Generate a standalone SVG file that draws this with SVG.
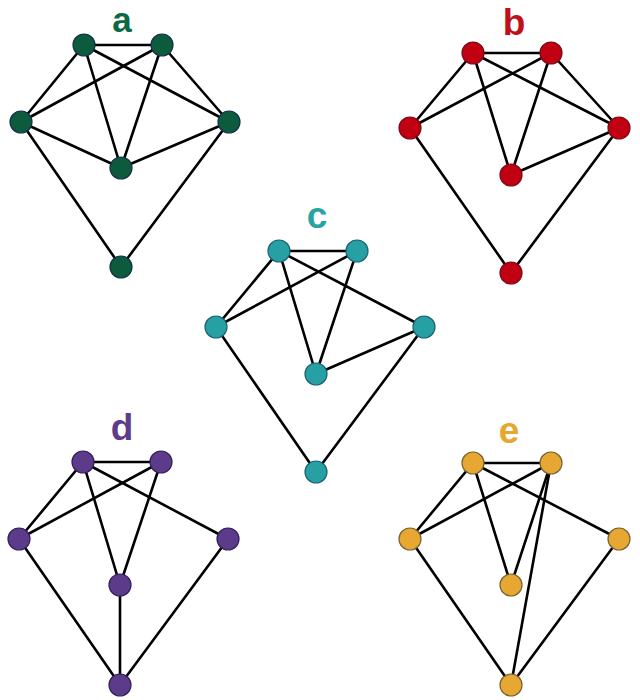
<svg xmlns="http://www.w3.org/2000/svg" width="640" height="700" viewBox="0 0 640 700">
<style>
.bg{fill:#ffffff}
.e line{stroke:#000;stroke-width:2.6;stroke-linecap:round}
.lbl{font-family:"Liberation Sans",Arial,sans-serif;font-weight:bold;font-size:37px;text-anchor:middle}
.na{fill:#0c5b3d;stroke:#16304a;stroke-width:1.2}
.nb{fill:#c10012;stroke:#7a0a18;stroke-width:1.2}
.nc{fill:#26a0a2;stroke:#1b6275;stroke-width:1.2}
.nd{fill:#5c3b8b;stroke:#33205a;stroke-width:1.2}
.ne{fill:#e6a833;stroke:#7a6032;stroke-width:1.2}
</style>
<rect class="bg" x="0" y="0" width="640" height="700"/>

<g id="connectors" class="e">
  <!-- graph a -->
  <line x1="84" y1="45" x2="162" y2="45"/>
  <line x1="84" y1="45" x2="21" y2="122"/>
  <line x1="84" y1="45" x2="121" y2="168"/>
  <line x1="84" y1="45" x2="229" y2="122"/>
  <line x1="162" y1="45" x2="21" y2="122"/>
  <line x1="162" y1="45" x2="121" y2="168"/>
  <line x1="162" y1="45" x2="229" y2="122"/>
  <line x1="21" y1="122" x2="121" y2="168"/>
  <line x1="21" y1="122" x2="121" y2="267"/>
  <line x1="121" y1="168" x2="229" y2="122"/>
  <line x1="229" y1="122" x2="121" y2="267"/>
  <!-- graph b -->
  <line x1="473" y1="53" x2="551" y2="53"/>
  <line x1="473" y1="53" x2="410" y2="128"/>
  <line x1="473" y1="53" x2="511" y2="175"/>
  <line x1="473" y1="53" x2="619" y2="128"/>
  <line x1="551" y1="53" x2="410" y2="128"/>
  <line x1="551" y1="53" x2="511" y2="175"/>
  <line x1="551" y1="53" x2="619" y2="128"/>
  <line x1="511" y1="175" x2="619" y2="128"/>
  <line x1="410" y1="128" x2="511" y2="273"/>
  <line x1="619" y1="128" x2="511" y2="273"/>
  <!-- graph c -->
  <line x1="279" y1="251" x2="357" y2="251"/>
  <line x1="279" y1="251" x2="216" y2="327"/>
  <line x1="279" y1="251" x2="316" y2="374"/>
  <line x1="279" y1="251" x2="424" y2="327"/>
  <line x1="357" y1="251" x2="216" y2="327"/>
  <line x1="357" y1="251" x2="316" y2="374"/>
  <line x1="316" y1="374" x2="424" y2="327"/>
  <line x1="216" y1="327" x2="316" y2="472"/>
  <line x1="424" y1="327" x2="316" y2="472"/>
  <!-- graph d -->
  <line x1="83" y1="462" x2="161" y2="462"/>
  <line x1="83" y1="462" x2="19" y2="539"/>
  <line x1="83" y1="462" x2="120" y2="585"/>
  <line x1="83" y1="462" x2="228" y2="539"/>
  <line x1="161" y1="462" x2="19" y2="539"/>
  <line x1="161" y1="462" x2="120" y2="585"/>
  <line x1="120" y1="585" x2="120" y2="685"/>
  <line x1="19" y1="539" x2="120" y2="685"/>
  <line x1="228" y1="539" x2="120" y2="685"/>
  <!-- graph e -->
  <line x1="473" y1="463" x2="551" y2="463"/>
  <line x1="473" y1="463" x2="410" y2="539"/>
  <line x1="473" y1="463" x2="511" y2="585"/>
  <line x1="473" y1="463" x2="619" y2="539"/>
  <line x1="551" y1="463" x2="410" y2="539"/>
  <line x1="551" y1="463" x2="511" y2="585"/>
  <line x1="551" y1="463" x2="511" y2="685"/>
  <line x1="410" y1="539" x2="511" y2="685"/>
  <line x1="619" y1="539" x2="511" y2="685"/>
</g>

<g id="graph-a">
  <text class="lbl" x="122" y="32" fill="#0b6a44" style="font-size:35px">a</text>
  <g id="a-tl"><circle class="na" cx="84" cy="45" r="11"/></g>
  <g id="a-tr"><circle class="na" cx="162" cy="45" r="11"/></g>
  <g id="a-l"><circle class="na" cx="21" cy="122" r="11"/></g>
  <g id="a-r"><circle class="na" cx="229" cy="122" r="11"/></g>
  <g id="a-m"><circle class="na" cx="121" cy="168" r="11"/></g>
  <g id="a-b"><circle class="na" cx="121" cy="267" r="11"/></g>
</g>

<g id="graph-b">
  <text class="lbl" x="514" y="35" fill="#c0101a">b</text>
  <g id="b-tl"><circle class="nb" cx="473" cy="53" r="11"/></g>
  <g id="b-tr"><circle class="nb" cx="551" cy="53" r="11"/></g>
  <g id="b-l"><circle class="nb" cx="410" cy="128" r="11"/></g>
  <g id="b-r"><circle class="nb" cx="619" cy="128" r="11"/></g>
  <g id="b-m"><circle class="nb" cx="511" cy="175" r="11"/></g>
  <g id="b-b"><circle class="nb" cx="511" cy="273" r="11"/></g>
</g>

<g id="graph-c">
  <text class="lbl" x="317" y="228" fill="#27a3a3">c</text>
  <g id="c-tl"><circle class="nc" cx="279" cy="251" r="11"/></g>
  <g id="c-tr"><circle class="nc" cx="357" cy="251" r="11"/></g>
  <g id="c-l"><circle class="nc" cx="216" cy="327" r="11"/></g>
  <g id="c-r"><circle class="nc" cx="424" cy="327" r="11"/></g>
  <g id="c-m"><circle class="nc" cx="316" cy="374" r="11"/></g>
  <g id="c-b"><circle class="nc" cx="316" cy="472" r="11"/></g>
</g>

<g id="graph-d">
  <text class="lbl" x="122" y="440" fill="#5e3c8c">d</text>
  <g id="d-tl"><circle class="nd" cx="83" cy="462" r="11"/></g>
  <g id="d-tr"><circle class="nd" cx="161" cy="462" r="11"/></g>
  <g id="d-l"><circle class="nd" cx="19" cy="539" r="11"/></g>
  <g id="d-r"><circle class="nd" cx="228" cy="539" r="11"/></g>
  <g id="d-m"><circle class="nd" cx="120" cy="585" r="11"/></g>
  <g id="d-b"><circle class="nd" cx="120" cy="685" r="11"/></g>
</g>

<g id="graph-e">
  <text class="lbl" x="509" y="443" fill="#e6a72c">e</text>
  <g id="e-tl"><circle class="ne" cx="473" cy="463" r="11"/></g>
  <g id="e-tr"><circle class="ne" cx="551" cy="463" r="11"/></g>
  <g id="e-l"><circle class="ne" cx="410" cy="539" r="11"/></g>
  <g id="e-r"><circle class="ne" cx="619" cy="539" r="11"/></g>
  <g id="e-m"><circle class="ne" cx="511" cy="585" r="11"/></g>
  <g id="e-b"><circle class="ne" cx="511" cy="685" r="11"/></g>
</g>
</svg>
